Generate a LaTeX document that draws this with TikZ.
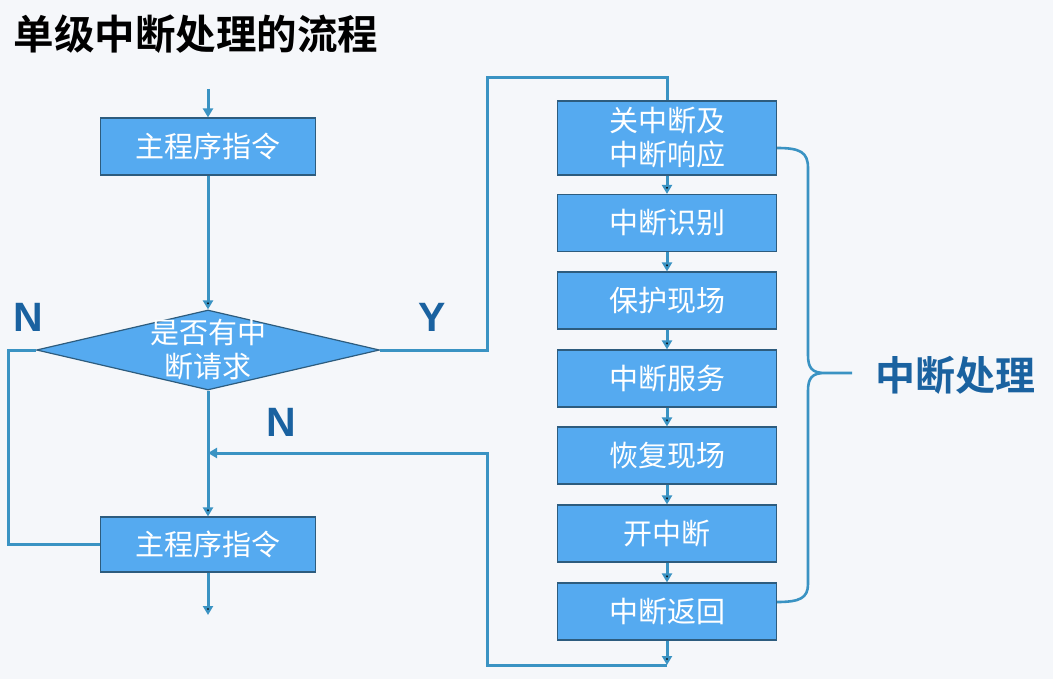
\documentclass[tikz,border=0pt]{standalone}
\usepackage{fontspec}
\setmainfont{Liberation Sans}
\newfontfamily\cjk{Noto Sans CJK SC}
\newfontfamily\cjkbold{Noto Sans CJK SC Bold}
\usetikzlibrary{arrows.meta,shapes.geometric}

\definecolor{boxfill}{HTML}{55AAF0}
\definecolor{boxline}{HTML}{2D5C7E}
\definecolor{wire}{HTML}{3A93C3}
\definecolor{tagblue}{HTML}{1A62A0}
\definecolor{paper}{HTML}{F5F7FA}

\begin{document}
\begin{tikzpicture}[
  x=1pt,y=-1pt,
  stepbox/.style={draw=boxline,line width=1.2pt,fill=boxfill,minimum width=216pt,minimum height=57pt,
    inner sep=0pt,align=center,text=white,font=\cjk\fontsize{29}{34}\selectfont},
  decide/.style={draw=boxline,line width=1.2pt,fill=boxfill,diamond,inner sep=0pt,
    minimum width=343pt,minimum height=80pt},
  tag/.style={text=tagblue,font=\bfseries\fontsize{41}{41}\selectfont},
  wireline/.style={draw=wire,line width=3pt},
  route/.style={wireline,-{Triangle[length=9pt,width=10pt]}}
]
  \fill[paper] (0,0) rectangle (1053,679);

  \node[anchor=west,font=\cjkbold\fontsize{40.5}{40.5}\selectfont] (title) at (10,34) {单级中断处理的流程};

  % main program column
  \coordinate (entry) at (208,89);
  \node[stepbox,minimum width=215pt] (prog1) at (208,146.5) {主程序指令};
  \node[decide,label={[text=white,align=center,font=\cjk\fontsize{29}{34}\selectfont]center:是否有中\\断请求}] (ask) at (208,350) {};
  \node[stepbox,minimum width=215pt,minimum height=55pt] (prog2) at (208,544.5) {主程序指令};
  \coordinate (exit) at (208,615);
  \coordinate (join) at (208,453);
  \coordinate (lft) at (8,350);

  % interrupt service column
  \node[stepbox,minimum width=219pt,minimum height=74pt] (r1) at (667,138) {关中断及\\中断响应};
  \node[stepbox,minimum width=219pt] (r2) at (667,223) {中断识别};
  \node[stepbox,minimum width=219pt] (r3) at (667,300.5) {保护现场};
  \node[stepbox,minimum width=219pt] (r4) at (667,378.5) {中断服务};
  \node[stepbox,minimum width=219pt] (r5) at (667,455.5) {恢复现场};
  \node[stepbox,minimum width=219pt] (r6) at (667,533.5) {开中断};
  \node[stepbox,minimum width=219pt] (r7) at (667,611.5) {中断返回};
  \coordinate (yup) at (487,78);
  \coordinate (rb) at (667,665);
  \coordinate (rl) at (487,665);

  \node[tag] (nleft) at (28,317) {N};
  \node[tag] (yes) at (432,317) {Y};
  \node[tag] (ndown) at (281,422) {N};

  \draw[route] (entry) -- (prog1.north);
  \path[route]
    (prog1) edge (ask)
    (ask) edge (prog2)
    (prog2) edge (exit)
    (r1) edge (r2)
    (r2) edge (r3)
    (r3) edge (r4)
    (r4) edge (r5)
    (r5) edge (r6)
    (r6) edge (r7)
    (r7) edge (rb);

  \draw[wireline] (ask.west) -- (lft) |- (prog2.west);
  \draw[wireline] (ask.east) -| (yup) -| (r1.north);
  \draw[route] (rb) -- (rl) |- (join);

  % brace
  \draw[wireline,line width=2.6pt]
    (777,148) .. controls (800,148) and (808,152) .. (808,168) -- (808,355)
    .. controls (808,368) and (812,373) .. (825,373) -- (852,373)
    (825,373) .. controls (812,373) and (808,378) .. (808,391) -- (808,584)
    .. controls (808,598) and (800,602) .. (777,602);
  \node[text=tagblue,font=\cjkbold\fontsize{40}{40}\selectfont] (part) at (955,375) {中断处理};
\end{tikzpicture}
\end{document}
